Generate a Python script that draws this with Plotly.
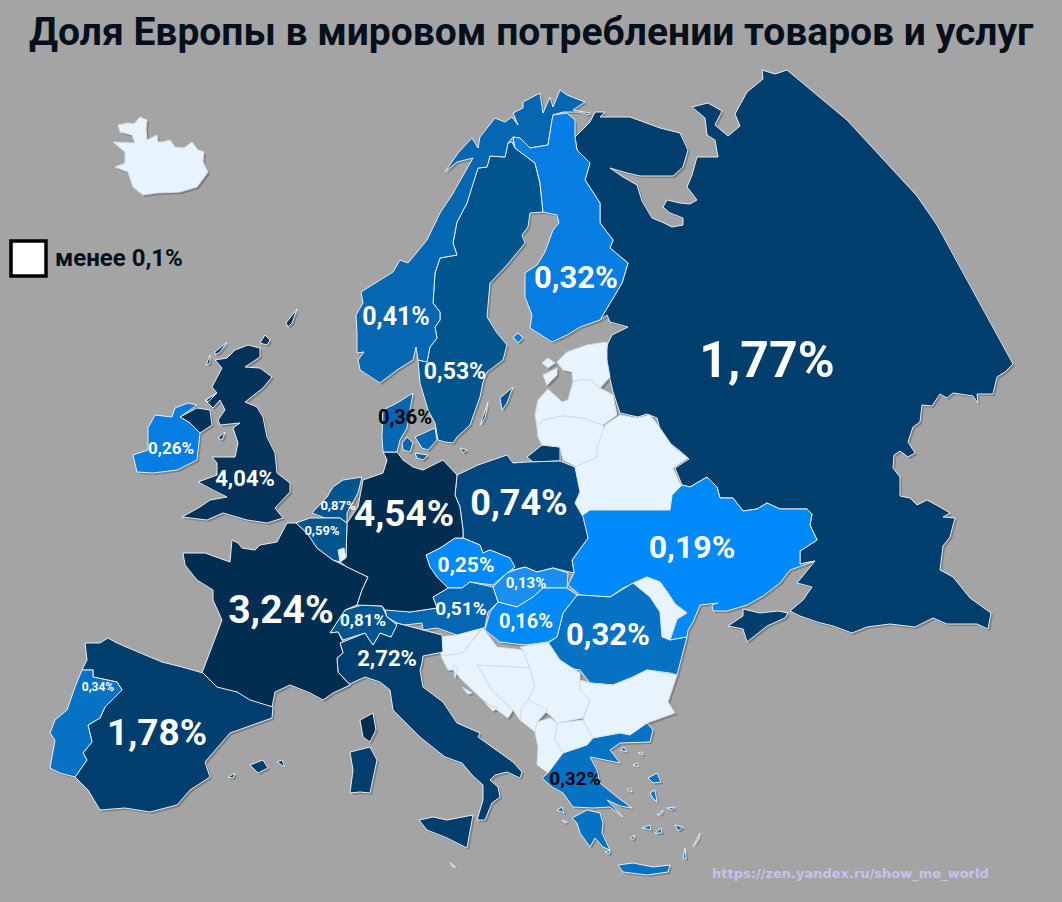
import plotly.graph_objects as go

# outlines, in picture pixels
iceland = [[(118,125),(128,123),(134,124),(140,117),(147,120),(146,130),(147,140),(157,135),(158,142),(163,142),(170,140),(175,147),(184,148),(192,142),(198,150),(204,152),(203,162),(208,172),(197,187),(180,192),(157,193),(143,195),(133,187),(128,172),(115,167),(125,163),(125,152),(113,142),(135,143),(132,135),(120,132)]]
russia = [
    [(590,122),(595,112),(605,112),(600,117),(630,117),(660,128),(680,133),(688,150),(683,167),(673,176),(640,176),(627,173),(610,168),(623,177),(637,185),(642,201),(652,218),(662,222),(672,227),(683,225),(683,218),(670,213),(663,207),(667,200),(680,203),(690,204),(697,200),(687,187),(692,175),(697,157),(718,157),(715,140),(707,135),(705,118),(692,107),(708,103),(722,111),(715,125),(728,136),(740,126),(735,114),(747,92),(763,79),(762,70),(775,74),(787,70),(847,120),(917,196),(937,225),(1013,364),(1005,372),(997,377),(993,394),(977,394),(978,403),(973,396),(953,393),(947,398),(940,394),(932,406),(922,405),(920,422),(913,427),(908,442),(915,453),(908,457),(900,451),(894,455),(893,468),(900,477),(900,496),(910,498),(917,505),(927,500),(940,507),(950,513),(943,517),(955,518),(950,537),(943,546),(940,570),(953,577),(962,588),(970,598),(991,613),(988,629),(977,624),(947,624),(933,618),(915,627),(890,624),(867,627),(852,633),(833,626),(817,622),(800,616),(790,611),(803,600),(812,587),(797,583),(815,561),(800,564),(800,551),(817,540),(810,525),(812,514),(807,509),(780,509),(767,503),(757,509),(743,511),(733,498),(720,498),(717,487),(707,477),(690,487),(682,485),(675,468),(689,459),(680,451),(662,437),(657,418),(647,414),(638,417),(620,413),(613,392),(607,366),(605,355),(608,343),(612,335),(628,327),(610,322),(607,315),(600,320),(622,283),(628,263),(610,248),(613,240),(600,223),(600,203),(585,180),(590,163),(577,150),(575,137)],
    [(527,457),(542,445),(560,447),(560,461),(533,462)],
    [(728,626),(743,616),(743,609),(760,613),(778,611),(788,613),(785,618),(767,626),(747,642),(743,629)],
]
finland = [
    [(553,115),(567,113),(575,120),(575,137),(577,150),(590,163),(585,180),(600,203),(600,223),(613,240),(610,248),(628,263),(622,283),(600,320),(580,327),(567,335),(552,342),(537,333),(530,328),(532,315),(525,297),(525,273),(530,270),(537,265),(545,252),(553,230),(559,223),(557,215),(543,212),(540,183),(535,163),(515,148),(513,137),(520,138),(530,148),(548,145),(552,120)],
    [(513,337),(518,333),(523,338),(518,343)],
]
norway = [[(588,115),(580,112),(563,112),(553,115),(548,145),(530,148),(520,138),(513,137),(508,143),(505,157),(490,156),(487,167),(478,168),(473,183),(467,203),(457,222),(453,243),(457,255),(440,258),(435,273),(433,303),(440,312),(440,320),(435,327),(437,338),(430,347),(427,362),(418,360),(416,347),(413,360),(397,370),(380,383),(360,370),(358,360),(364,352),(357,353),(357,333),(356,315),(363,303),(361,292),(380,280),(393,272),(400,260),(408,263),(427,240),(440,213),(452,195),(473,158),(457,162),(445,172),(458,153),(472,138),(478,148),(480,137),(495,118),(505,122),(512,117),(518,125),(513,113),(523,108),(523,102),(540,93),(543,113),(550,97),(553,107),(560,90),(567,95),(585,102),(573,110),(590,113)]]
sweden = [
    [(512,142),(515,148),(535,163),(540,183),(543,212),(530,213),(528,227),(522,235),(525,243),(507,265),(490,283),(487,317),(497,333),(507,345),(503,360),(487,372),(483,382),(480,397),(470,425),(457,437),(453,443),(445,442),(438,440),(435,423),(428,410),(423,393),(420,383),(418,360),(427,362),(430,347),(437,338),(435,327),(440,320),(440,312),(433,303),(435,273),(440,258),(457,255),(453,243),(457,222),(467,203),(473,183),(478,168),(487,167),(490,156),(505,157),(508,143)],
    [(500,398),(513,387),(507,403),(502,410)],
    [(480,425),(488,402),(485,418)],
]
estonia = [
    [(557,362),(567,352),(587,345),(607,342),(607,360),(610,377),(600,388),(590,380),(580,380),(573,382),(572,372),(563,370)],
    [(543,375),(557,368),(557,375),(547,385)],
    [(542,363),(548,358),(555,363),(548,368)],
]
latvia = [[(535,415),(538,400),(548,389),(562,402),(568,400),(573,382),(580,380),(590,380),(600,388),(613,395),(617,415),(603,425),(583,418),(563,416),(543,420),(537,427)]]
lithuania = [[(537,427),(543,420),(563,416),(583,418),(603,425),(605,435),(597,447),(597,457),(577,467),(563,460),(560,447),(542,445),(538,437)]]
belarus = [[(605,425),(620,415),(637,418),(650,415),(660,428),(673,447),(688,458),(673,468),(683,490),(672,495),(670,510),(633,510),(590,510),(583,517),(575,503),(580,492),(575,467),(597,457),(597,447)]]
poland = [[(457,475),(478,465),(507,455),(513,463),(527,462),(560,461),(575,467),(580,492),(575,503),(583,517),(588,538),(572,560),(574,573),(553,568),(537,572),(525,567),(513,570),(510,558),(490,550),(483,553),(480,545),(463,538),(463,530),(460,507),(455,495)]]
czechia = [[(426,555),(440,548),(455,538),(463,538),(480,545),(483,553),(490,550),(510,558),(515,567),(507,573),(493,585),(470,582),(462,588),(448,588),(437,577),(430,567)]]
slovakia = [[(515,570),(525,567),(537,572),(553,568),(568,573),(567,588),(543,588),(533,597),(517,607),(498,602),(493,587),(507,573)]]
ukraine = [[(580,517),(590,510),(633,510),(670,510),(672,495),(682,485),(690,487),(707,477),(717,487),(720,498),(733,498),(743,511),(757,509),(767,503),(780,509),(807,509),(812,514),(810,525),(817,540),(800,551),(800,564),(815,561),(790,570),(780,583),(763,596),(747,605),(727,611),(713,611),(712,605),(718,603),(700,605),(693,622),(688,630),(687,637),(670,640),(677,619),(687,613),(675,604),(668,593),(660,582),(647,577),(633,583),(623,588),(610,597),(580,595),(568,585),(574,573),(572,560),(588,538)]]
moldova = [[(633,583),(647,577),(660,582),(668,593),(675,604),(687,613),(677,619),(670,640),(662,637),(660,612),(650,597)]]
romania = [[(577,595),(580,595),(610,597),(633,583),(650,597),(660,612),(662,637),(670,640),(687,637),(677,675),(670,673),(647,670),(633,677),(613,685),(590,683),(580,670),(563,667),(548,643),(557,637),(563,613)]]
hungary = [[(498,602),(517,607),(533,597),(543,588),(567,588),(577,595),(563,613),(557,637),(548,642),(525,645),(500,642),(485,630),(490,612)]]
austria = [[(437,608),(433,597),(448,588),(462,588),(470,582),(493,587),(498,602),(488,612),(485,627),(483,628),(457,635),(437,628),(423,630),(422,623),(405,625),(397,623),(387,617),(385,610),(400,610),(410,612)]]
switzerland = [[(330,633),(345,610),(362,605),(382,606),(387,617),(397,625),(391,637),(380,633),(373,645),(365,633),(343,640),(338,632)]]
italy = [
    [(343,642),(340,643),(343,653),(337,658),(338,672),(350,685),(343,687),(365,677),(380,682),(390,690),(393,710),(413,730),(420,737),(445,757),(462,763),(472,775),(483,785),(483,800),(477,820),(485,820),(492,803),(500,797),(498,787),(490,780),(495,775),(507,772),(520,778),(522,772),(513,762),(478,737),(480,733),(457,723),(443,702),(423,687),(420,670),(422,663),(423,656),(443,652),(442,635),(423,630),(405,625),(397,623),(391,637),(380,633),(373,645),(365,633)],
    [(350,752),(370,747),(377,760),(370,793),(360,792),(350,793),(353,770)],
    [(419,820),(433,817),(447,820),(473,815),(467,848),(447,838),(427,830)],
]
france = [
    [(183,553),(205,553),(230,562),(232,540),(238,543),(242,548),(255,550),(260,545),(277,542),(283,530),(287,523),(296,523),(307,533),(312,540),(317,548),(333,560),(347,567),(368,577),(362,590),(357,605),(345,610),(330,633),(338,632),(343,642),(340,643),(343,653),(337,658),(338,672),(350,685),(343,688),(333,693),(323,700),(310,693),(290,685),(275,692),(272,707),(253,703),(237,692),(220,690),(202,673),(213,643),(222,620),(213,600),(213,590),(197,580),(185,565)],
    [(360,720),(373,713),(376,730),(370,742),(363,737)],
]
spain = [
    [(85,643),(100,643),(108,638),(117,643),(138,652),(162,662),(182,667),(203,673),(217,687),(237,692),(250,700),(273,707),(272,718),(230,733),(205,762),(210,777),(190,790),(177,805),(150,812),(125,808),(100,810),(88,790),(75,777),(87,760),(83,753),(92,742),(88,725),(100,718),(105,707),(122,690),(117,682),(93,677),(93,670),(82,670),(87,660)],
    [(250,765),(263,760),(268,768),(258,773)],
    [(277,762),(282,760),(285,767)],
    [(228,777),(235,773),(233,778)],
]
portugal = [[(82,670),(93,670),(93,677),(117,682),(122,690),(105,707),(100,718),(88,725),(92,742),(83,753),(87,760),(75,777),(60,773),(50,768),(55,740),(50,733),(55,720),(67,710),(75,687)]]
germany = [[(383,452),(397,452),(403,460),(413,467),(423,470),(443,460),(457,475),(455,495),(460,507),(463,530),(463,538),(455,538),(440,548),(426,555),(430,567),(437,577),(448,588),(433,597),(437,608),(410,612),(385,610),(382,606),(357,605),(362,590),(368,577),(347,567),(340,562),(346,557),(347,523),(358,507),(363,480),(383,473),(387,460)]]
netherlands = [[(312,513),(327,497),(333,487),(343,480),(362,477),(358,493),(347,513),(347,523),(340,518),(325,518)]]
belgium = [[(296,523),(310,518),(325,518),(340,518),(347,523),(346,557),(340,562),(333,560),(317,548),(307,533)]]
luxembourg = [[(338,550),(344,548),(346,558),(340,562)]]
denmark = [
    [(383,452),(382,437),(383,410),(397,403),(413,393),(410,410),(407,428),(400,440),(397,452)],
    [(415,437),(435,428),(437,440),(428,450),(422,448)],
    [(402,443),(407,437),(413,443),(410,452),(403,450)],
    [(415,453),(428,455),(423,460),(417,458)],
    [(460,448),(467,450),(463,453)],
]
uk = [
    [(235,350),(248,345),(260,348),(260,357),(245,367),(260,368),(272,377),(263,388),(245,402),(257,407),(263,417),(267,437),(275,453),(277,473),(290,483),(290,492),(275,508),(283,518),(267,523),(247,520),(223,513),(207,520),(182,517),(200,507),(210,500),(227,497),(213,490),(198,482),(217,475),(217,463),(212,457),(220,457),(235,457),(238,443),(233,428),(240,423),(220,425),(218,420),(225,410),(220,400),(213,408),(205,400),(217,393),(212,387),(222,368),(215,360),(227,358)],
    [(180,417),(197,408),(210,410),(212,425),(200,433),(190,423)],
    [(215,352),(227,342),(220,352),(215,355)],
    [(206,365),(210,355),(210,363)],
    [(206,400),(217,393),(208,402)],
    [(218,438),(225,432),(222,440)],
    [(260,343),(265,335),(270,340),(267,345)],
    [(286,323),(297,309),(292,323),(288,327)],
]
ireland = [[(133,455),(148,450),(148,428),(155,415),(172,417),(175,408),(188,403),(197,405),(180,417),(190,423),(200,433),(197,460),(177,470),(153,473),(137,472)]]
slovenia = [[(440,637),(457,635),(481,629),(473,640),(463,653),(445,658),(441,655)]]
croatia = [
    [(441,656),(463,653),(473,640),(483,628),(497,647),(523,650),(530,668),(477,665),(492,690),(513,710),(508,718),(483,700),(462,680),(453,670),(448,670)],
    [(462,687),(472,693),(468,694)],
    [(485,703),(498,708),(493,711)],
    [(453,665),(458,667),(455,678)],
]
bosnia = [[(477,665),(530,668),(535,687),(528,700),(522,707),(520,720),(513,710),(492,690)]]
serbia = [[(523,650),(520,647),(548,642),(560,660),(580,673),(580,690),(590,700),(583,718),(557,723),(550,715),(528,700),(535,687),(530,668)]]
montenegro = [[(522,707),(528,700),(548,710),(537,722),(535,732),(520,720)]]
albania = [[(537,722),(550,718),(557,723),(555,740),(563,753),(548,773),(537,765),(538,747),(535,732)]]
macedonia = [[(557,723),(583,720),(593,737),(587,745),(563,753),(555,740)]]
bulgaria = [[(580,680),(590,683),(613,685),(633,677),(647,670),(677,675),(668,702),(675,713),(647,723),(630,735),(620,733),(593,738),(583,720),(590,700),(580,690)]]
malta = [[(450,862),(456,868),(452,866)]]
greece = [
    [(563,753),(587,745),(593,738),(620,733),(630,735),(647,723),(653,730),(650,742),(620,743),(610,750),(620,763),(590,757),(597,770),(600,783),(617,797),(632,808),(620,806),(607,800),(623,817),(610,807),(593,808),(573,807),(563,793),(552,787),(542,778),(548,773)],
    [(572,818),(587,810),(600,813),(603,823),(602,833),(610,850),(603,847),(595,838),(590,847),(580,833),(577,823)],
    [(618,865),(633,863),(653,867),(670,865),(668,872),(647,875),(623,872)],
    [(648,778),(657,773),(661,782),(653,783)],
    [(650,793),(655,790),(657,802),(653,798)],
    [(657,815),(663,810),(661,814)],
    [(693,847),(700,833),(698,840)],
    [(683,858),(685,848),(686,859)],
    [(557,810),(562,807),(564,813)],
    [(620,750),(624,747),(627,752)],
    [(633,765),(637,763),(639,767)],
    [(638,753),(642,752),(643,755)],
    [(627,790),(630,788),(632,792)],
    [(642,828),(650,825),(651,830)],
    [(655,833),(661,828),(662,833)],
    [(675,825),(683,827),(678,831)],
    [(667,808),(675,807),(672,810)],
    [(562,820),(567,822),(565,823)],
    [(605,852),(610,850),(609,854)],
    [(630,838),(635,835),(633,840)],
]

countries = [
    ("Исландия", iceland, "#e8f4fd"), ("Россия", russia, "#003f6d"), ("Швеция", sweden, "#01558f"),
    ("Норвегия", norway, "#0566b1"), ("Финляндия", finland, "#057de3"), ("Эстония", estonia, "#e8f4fd"),
    ("Латвия", latvia, "#e8f4fd"), ("Литва", lithuania, "#e8f4fd"), ("Беларусь", belarus, "#e8f4fd"),
    ("Украина", ukraine, "#0089f9"), ("Молдавия", moldova, "#e8f4fd"), ("Румыния", romania, "#0672c4"),
    ("Польша", poland, "#00467f"), ("Чехия", czechia, "#0089f9"), ("Словакия", slovakia, "#1a8ff0"),
    ("Венгрия", hungary, "#0089f9"), ("Словения", slovenia, "#e8f4fd"), ("Хорватия", croatia, "#e8f4fd"),
    ("Босния", bosnia, "#e8f4fd"), ("Сербия", serbia, "#e8f4fd"), ("Черногория", montenegro, "#e8f4fd"),
    ("Албания", albania, "#e8f4fd"), ("Македония", macedonia, "#e8f4fd"), ("Болгария", bulgaria, "#e8f4fd"),
    ("Мальта", malta, "#e8f4fd"), ("Греция", greece, "#0672c4"), ("Италия", italy, "#003f6d"),
    ("Австрия", austria, "#0566b1"), ("Швейцария", switzerland, "#01558f"), ("Франция", france, "#012d50"),
    ("Испания", spain, "#003f6d"), ("Португалия", portugal, "#0672c4"), ("Германия", germany, "#012d50"),
    ("Нидерланды", netherlands, "#01558f"), ("Бельгия", belgium, "#01558f"), ("Люксембург", luxembourg, "#e8f4fd"),
    ("Дания", denmark, "#0566b1"), ("Великобритания", uk, "#03335a"), ("Ирландия", ireland, "#057de3"),
]

share_labels = ["1,77%", "4,54%", "3,24%", "1,78%", "0,74%", "0,19%", "0,32%", "0,32%", "0,41%", "0,53%", "4,04%", "2,72%",
                "0,81%", "0,51%", "0,25%", "0,16%", "0,13%", "0,87%", "0,59%", "0,26%", "0,34%", "0,36%", "0,32%"]
label_x = [767, 404, 281, 157, 519, 692, 576, 608, 396, 455, 245, 387, 363, 461, 466, 526, 526, 338, 322, 171, 98, 405, 575]
label_y = [364, 517, 613, 736, 506, 550, 280, 637, 319, 373, 480, 660, 622, 610, 567, 623, 584, 507, 532, 450, 688, 419, 780]
label_size = [50, 37, 39, 37, 36, 32, 31, 31, 25, 23, 22, 22, 17, 19, 21, 20, 15, 13, 13, 17, 12, 20, 19]
label_color = ["white"] * 21 + ["black", "black"]

LABEL_FONT = "Roboto, sans-serif"


def flatten(parts, shift=0):
    xs, ys = [], []
    for part in parts:
        for x, y in part + part[:1]:
            xs.append(x + shift)
            ys.append(y + shift)
        xs.append(None)
        ys.append(None)
    return xs, ys


fig = go.Figure()

# soft shadow under the land
for name, parts, color in countries:
    xs, ys = flatten(parts, shift=2)
    fig.add_trace(go.Scatter(x=xs, y=ys, mode="lines", fill="toself", fillcolor="rgba(60,60,60,0.35)",
                             line=dict(width=0), hoverinfo="skip"))

for name, parts, color in countries:
    xs, ys = flatten(parts)
    edge = "#d3dde4" if color == "#e8f4fd" else "#e6eef4"
    fig.add_trace(go.Scatter(x=xs, y=ys, mode="lines", fill="toself", fillcolor=color, name=name,
                             line=dict(color=edge, width=1), hoverinfo="name"))

fig.add_trace(go.Scatter(x=label_x, y=label_y, mode="text", text=share_labels,
                         textfont=dict(family=LABEL_FONT, size=label_size, color=label_color, weight="bold"),
                         textposition="middle center", hoverinfo="skip"))

# legend box
fig.add_shape(type="rect", x0=11, y0=241, x1=46, y1=276, fillcolor="white", line=dict(color="black", width=3.5))
fig.add_annotation(x=53, y=258, text="<b>менее 0,1%</b>", showarrow=False, xanchor="left",
                   font=dict(family="Roboto, sans-serif", size=24, color="#05101c"))
fig.add_annotation(x=531, y=32, text="<b>Доля Европы в мировом потреблении товаров и услуг</b>", showarrow=False,
                   font=dict(family="Roboto, sans-serif", size=39, color="#05101c"))
fig.add_annotation(x=850, y=874, text="<b>https://zen.yandex.ru/show_me_world</b>", showarrow=False,
                   font=dict(family="DejaVu Sans, sans-serif", size=13, color="#c9c0ea"))

fig.update_layout(
    width=1062, height=902, margin=dict(l=0, r=0, t=0, b=0),
    paper_bgcolor="#a4a4a4", plot_bgcolor="#a4a4a4", showlegend=False,
    xaxis=dict(range=[0, 1062], visible=False, fixedrange=True),
    yaxis=dict(range=[902, 0], visible=False, fixedrange=True),
)

fig.write_html("out.html", config=dict(displayModeBar=False),
               post_script="document.body.style.margin='0';document.body.style.overflow='hidden';")
